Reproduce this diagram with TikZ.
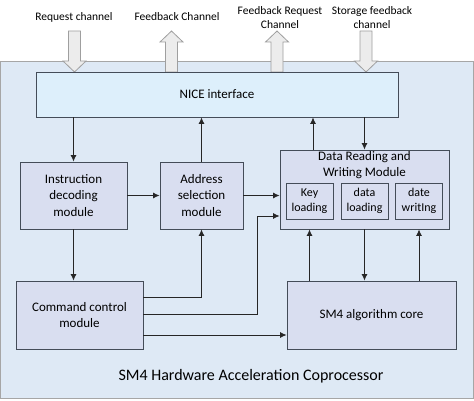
\documentclass[tikz,border=0pt]{standalone}
\usepackage{fontspec}
\setmainfont{Carlito}
\usetikzlibrary{arrows.meta,positioning,calc}
\definecolor{chipbg}{RGB}{222,233,245}
\definecolor{nicefill}{RGB}{221,239,251}
\definecolor{modfill}{RGB}{217,222,240}
\definecolor{edgegray}{RGB}{68,76,88}
\tikzset{
chipbox/.style={draw=gray!70, line width=0.8pt, fill=chipbg, inner sep=0pt},
modbox/.style={draw=edgegray, line width=0.9pt, fill=modfill, align=center, inner sep=2pt, font=\fontsize{13}{16.5}\selectfont},
subbox/.style={modbox, minimum width=47pt, minimum height=36pt, font=\fontsize{12}{15}\selectfont},
flowarrow/.style={-{Latex[length=6.5pt,width=6pt]}, line width=0.8pt, draw=black!85},
chanarrow/.style={draw=gray!75, fill=gray!15, line width=0.8pt, line join=miter},
chanlabel/.style={align=center, font=\fontsize{11.5}{14}\selectfont}
}
\begin{document}
\begin{tikzpicture}[x=1pt, y=-1pt]
\useasboundingbox (0,0) rectangle (474,401);
\node[chipbox, minimum width=473pt, minimum height=337pt] (chip) at (237,229.5) {};

% channels
\foreach \cx in {74.5,366}
  \draw[chanarrow] (\cx-6,31) -- (\cx+6,31) -- (\cx+6,61) -- (\cx+11.5,61) -- (\cx,72) -- (\cx-11.5,61) -- (\cx-6,61) -- cycle;
\foreach \cx in {171.5,277}
  \draw[chanarrow] (\cx,31) -- (\cx+11.5,42) -- (\cx+6,42) -- (\cx+6,72) -- (\cx-6,72) -- (\cx-6,42) -- (\cx-11.5,42) -- cycle;
\node[modbox, fill=nicefill, minimum width=362pt, minimum height=45pt] (nice) at (217,94.5) {NICE interface};
\node[chanlabel] (reqlabel) at (74,17) {Request channel};
\node[chanlabel] (fblabel) at (177,17) {Feedback Channel};
\node[chanlabel] (fbreqlabel) at (280,18) {Feedback Request\\Channel};
\node[chanlabel] (storlabel) at (372,18) {Storage feedback\\channel};

% modules
\node[modbox, minimum width=107pt, minimum height=67pt] (instr) at (73.5,195.5) {Instruction\\decoding\\module};
\node[modbox, minimum width=83pt, minimum height=67pt] (addr) at (201.5,195.5) {Address\\selection\\module};
\node[modbox, minimum width=169pt, minimum height=79pt] (datarw) at (364.5,189.5) {};
\node[align=center, font=\fontsize{13}{16}\selectfont] (drwtitle) at (364.5,165) {Data Reading and\\Writing Module};
\node[subbox] (key) at (309.5,201) {Key\\loading};
\node[subbox] (dload) at (364.5,201) {data\\loading};
\node[subbox] (dwrite) at (419,201) {date\\writIng};
\node[modbox, minimum width=127pt, minimum height=68pt] (cmd) at (79.5,315) {Command control\\module};
\node[modbox, minimum width=169pt, minimum height=68pt] (core) at (371.5,315) {SM4 algorithm core};
\node[font=\fontsize{16}{18}\selectfont] (caption) at (251,376) {SM4 Hardware Acceleration Coprocessor};

% links
\coordinate (laneA) at (313,0);
\coordinate (jog) at (257,0);
\coordinate (jogtop) at ($(datarw.west)+(0,26.5)$);
\draw[flowarrow] (nice.south -| instr) -- (instr.north);
\draw[flowarrow] (addr.north) -- (addr.north |- nice.south);
\draw[flowarrow] (datarw.north -| laneA) -- (nice.south -| laneA);
\draw[flowarrow] (nice.south -| dload) -- (datarw.north -| dload);
\draw[flowarrow] (instr) -- (addr);
\draw[flowarrow] (addr.east) -- (addr.east -| datarw.west);
\draw[flowarrow] (instr.south) -- (instr.south |- cmd.north);
\draw[flowarrow] ([yshift=18pt]cmd.east) -| (addr.south);
\draw[flowarrow] ([yshift=1pt]cmd.east) -| (jogtop -| jog) -- (jogtop);
\draw[flowarrow] ([yshift=-20pt]cmd.east) -- ([yshift=-20pt]cmd.east -| core.west);
\draw[flowarrow] (core.north -| key) -- (datarw.south -| key);
\draw[flowarrow] (core.north -| dwrite) -- (datarw.south -| dwrite);
\draw[flowarrow] (datarw.south -| dload) -- (core.north -| dload);
\end{tikzpicture}
\end{document}
